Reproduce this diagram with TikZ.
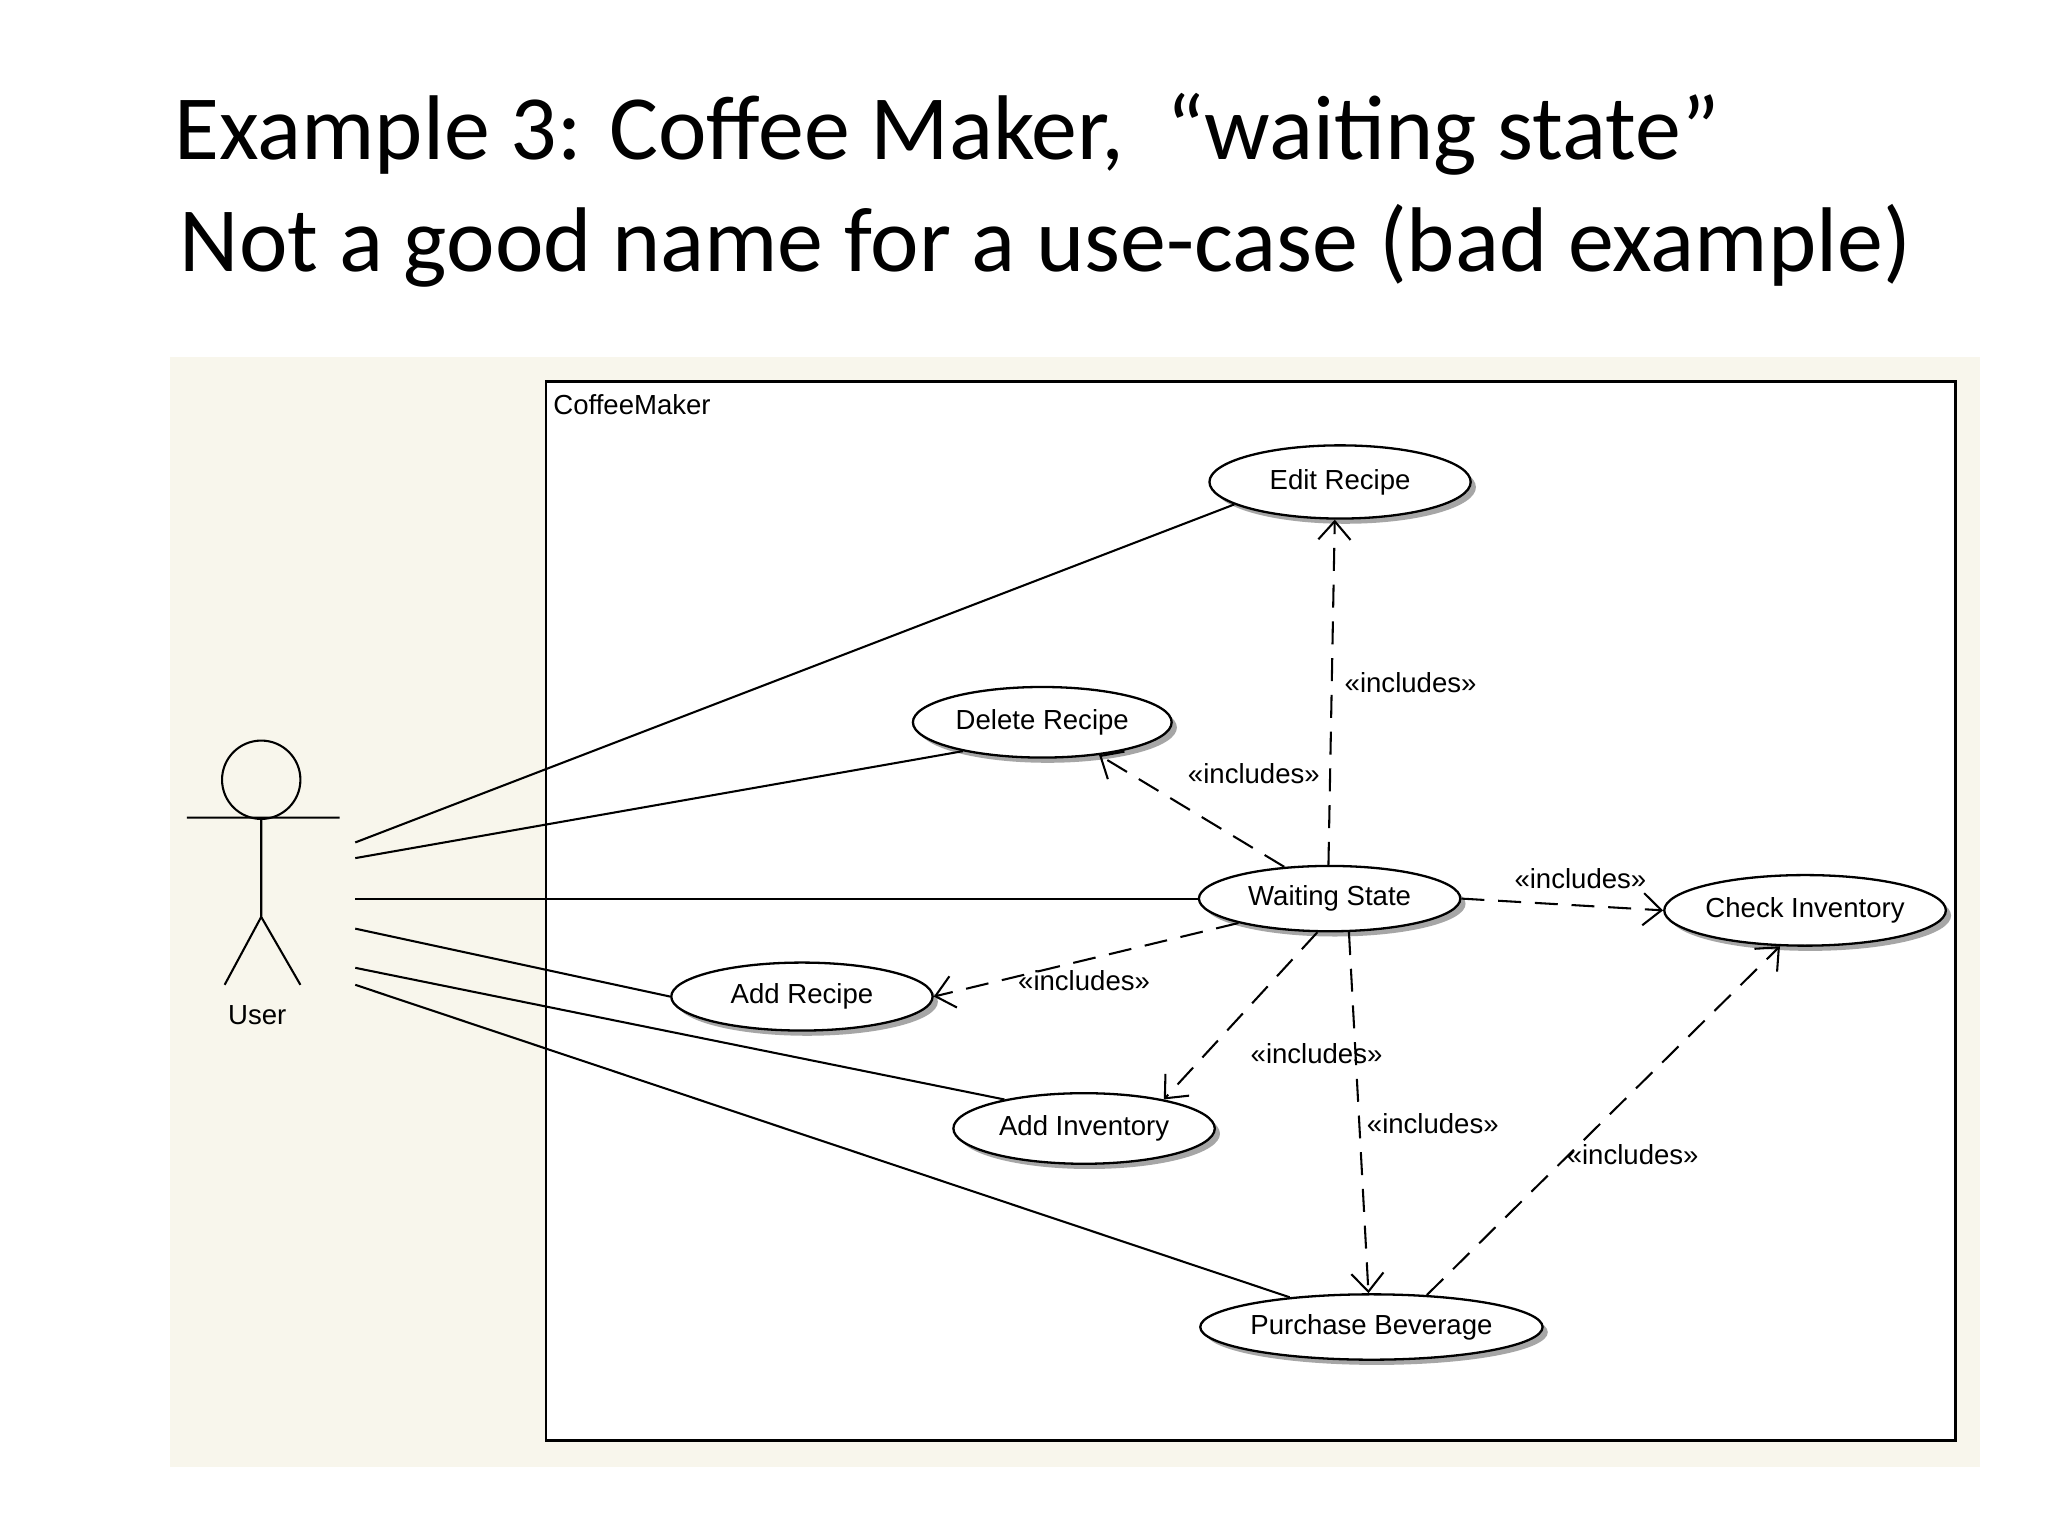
\documentclass[tikz,border=0pt]{standalone}
\usepackage{fontspec}
\setmainfont{Carlito}
\newfontfamily\umlfont{Liberation Sans}
\usetikzlibrary{shapes.geometric,shadows,arrows.meta}
\begin{document}
\begin{tikzpicture}[x=0.01cm,y=-0.01cm,
  uc/.style={ellipse,draw,line width=0.5pt,fill=white,inner sep=0pt,font=\umlfont\fontsize{6}{7}\selectfont,
    drop shadow={shadow xshift=0.04cm,shadow yshift=-0.04cm,fill=gray!70,opacity=1}},
  inc/.style={densely dashed,dash pattern=on 5pt off 3pt,line width=0.45pt,-{Straight Barb[length=4pt,width=7pt]}},
  lbl/.style={font=\umlfont\fontsize{6}{7}\selectfont,inner sep=0pt},
  ln/.style={line width=0.45pt}]
\useasboundingbox (0,0) rectangle (1568,1176);
\fill[white] (0,0) rectangle (1568,1176);
\node[anchor=west,inner sep=0pt,font=\fontsize{20}{24}\selectfont] (t1) at (133,103) {Example 3: Coffee Maker,~~“waiting state”};
\node[anchor=west,inner sep=0pt,font=\fontsize{20}{24}\selectfont] (t2) at (137,188) {Not a good name for a use-case (bad example)};
\fill[fill={rgb,255:red,248;green,246;blue,236}] (130,273) rectangle (1516,1123);
\draw[fill=white,line width=0.6pt] (418,292) rectangle (1497,1103);
\node[lbl,anchor=west] (cm) at (423,310) {CoffeeMaker};
% actor
\draw[ln] (200,597) circle (30);
\draw[ln] (143,626) -- (260,626) (200,627) -- (200,702) (172,754) -- (200,702) -- (230,754);
\node[lbl] (user) at (197,777) {User};
% use cases
\node[uc,minimum width=200\pgflinewidth/\pgflinewidth*0.01cm,minimum height=0.56cm] (er) at (1026,369) {Edit Recipe};
\node[uc,minimum width=1.98cm,minimum height=0.54cm] (dr) at (798,553) {Delete Recipe};
\node[uc,minimum width=2cm,minimum height=0.5cm] (ws) at (1018,688) {Waiting State};
\node[uc,minimum width=2cm,minimum height=0.54cm] (ci) at (1382,697) {Check Inventory};
\node[uc,minimum width=2cm,minimum height=0.52cm] (ar) at (614,763) {Add Recipe};
\node[uc,minimum width=2cm,minimum height=0.54cm] (ai) at (830,864) {Add Inventory};
\node[uc,minimum width=2cm,minimum height=0.5cm] (pb) at (1050,1016) {Purchase Beverage};
% actor associations
\coordinate (u1) at (272,645); \coordinate (u2) at (272,657); \coordinate (u3) at (272,688);
\coordinate (u4) at (272,711); \coordinate (u5) at (272,741); \coordinate (u6) at (272,754);
\draw[ln] (u1) -- (er.192);
\draw[ln] (u2) -- (dr.200);
\draw[ln] (u3) -- (ws.west);
\draw[ln] (u4) -- (ar.west);
\draw[ln] (u5) -- (ai.160);
\draw[ln] (u6) -- (pb.160);
% includes
\draw[inc] (ws.92) -- (er.262);
\node[lbl] (l1) at (1080,523) {«includes»};
\draw[inc] (ws.145) -- (dr.-30);
\node[lbl] (l2) at (960,592) {«includes»};
\draw[inc] (ws.east) -- (ci.west);
\node[lbl] (l3) at (1210,673) {«includes»};
\draw[inc] (ws.195) -- (ar.east);
\node[lbl] (l4) at (830,751) {«includes»};
\draw[inc] (ws.-110) -- (ai.20);
\node[lbl] (l5) at (1008,807) {«includes»};
\draw[inc] (ws.-60) -- (pb.95);
\node[lbl] (l6) at (1097,860) {«includes»};
\draw[inc] (pb.30) -- (ci.-125);
\node[lbl] (l7) at (1250,884) {«includes»};
\end{tikzpicture}
\end{document}
